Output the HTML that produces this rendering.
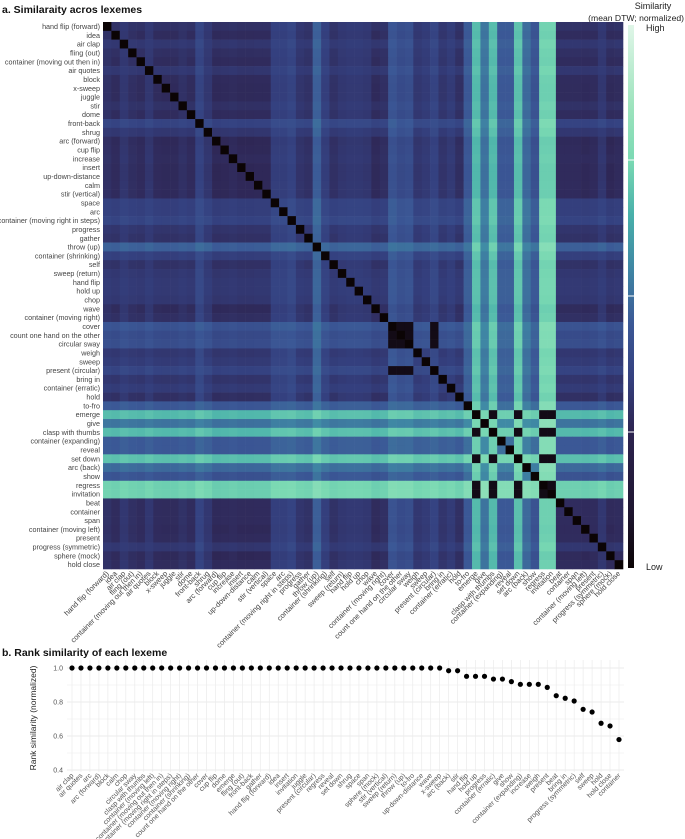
<!DOCTYPE html>
<html><head><meta charset="utf-8">
<style>
html,body{margin:0;padding:0;background:#fff;}
svg{display:block;font-family:"Liberation Sans",sans-serif;}
</style></head>
<body>
<svg id="fig" width="685" height="839" viewBox="0 0 685 839" xmlns="http://www.w3.org/2000/svg">
<text x="2" y="13" font-size="10.5" font-weight="bold" fill="#111">a. Similaraity acros lexemes</text>
<text x="653" y="9" font-size="9" fill="#222" text-anchor="middle">Similarity</text>
<text x="684" y="21" font-size="8.6" fill="#222" text-anchor="end">(mean DTW; normalized)</text>
<defs><linearGradient id="cb" x1="0" y1="0" x2="0" y2="1">
<stop offset="0" stop-color="#e0f6e8"/><stop offset="0.15" stop-color="#9de3bd"/><stop offset="0.25" stop-color="#7ad9b3"/><stop offset="0.35" stop-color="#48b0aa"/><stop offset="0.45" stop-color="#3f86a4"/><stop offset="0.55" stop-color="#3b5896"/><stop offset="0.65" stop-color="#34407f"/><stop offset="0.75" stop-color="#2d2450"/><stop offset="0.9" stop-color="#1f1630"/><stop offset="1" stop-color="#0b0405"/>
</linearGradient></defs>
<rect x="628" y="25" width="6" height="543" fill="url(#cb)"/>
<line x1="628" x2="634" y1="160" y2="160" stroke="#fff" stroke-width="1"/>
<line x1="628" x2="634" y1="296" y2="296" stroke="#fff" stroke-width="1"/>
<line x1="628" x2="634" y1="432" y2="432" stroke="#fff" stroke-width="1"/>
<text x="646" y="31" font-size="9" fill="#222">High</text>
<text x="646" y="570" font-size="9" fill="#222">Low</text>
<g id="heat"></g>
<g id="rowlab"></g>
<g id="collab"></g>

<text x="2" y="656" font-size="10.5" font-weight="bold" fill="#111">b. Rank similarity of each lexeme</text>
<g id="rank"></g>
<text transform="translate(36,718) rotate(-90)" font-size="8.5" fill="#222" text-anchor="middle">Rank similarity (normalized)</text>
</svg>
<script>
const lexemes = ["hand flip (forward)","idea","air clap","fling (out)","container (moving out then in)","air quotes","block","x-sweep","juggle","stir","dome","front-back","shrug","arc (forward)","cup flip","increase","insert","up-down-distance","calm","stir (vertical)","space","arc","container (moving right in steps)","progress","gather","throw (up)","container (shrinking)","self","sweep (return)","hand flip","hold up","chop","wave","container (moving right)","cover","count one hand on the other","circular sway","weigh","sweep","present (circular)","bring in","container (erratic)","hold","to-fro","emerge","give","clasp with thumbs","container (expanding)","reveal","set down","arc (back)","show","regress","invitation","beat","container","span","container (moving left)","present","progress (symmetric)","sphere (mock)","hold close"];
const rowLevel = [.33,.30,.36,.32,.30,.36,.30,.29,.29,.33,.30,.42,.36,.26,.28,.30,.27,.27,.28,.28,.40,.40,.42,.35,.33,.52,.40,.33,.36,.37,.37,.36,.29,.32,.48,.45,.46,.36,.38,.42,.35,.38,.32,.50,.80,.58,.80,.50,.50,.82,.55,.48,.87,.87,.30,.30,.30,.28,.30,.36,.27,.30];
const clusterId = [0,0,0,0,0,0,0,0,0,0,0,0,0,0,0,0,0,0,0,0,0,0,0,0,0,0,0,0,0,0,0,0,0,0,1,1,1,0,0,1,0,0,0,0,2,0,2,0,0,2,0,0,2,2,0,0,0,0,0,0,0,0];
const rankLabels = ["air clap","air quotes","arc","arc (forward)","block","calm","chop","circular sway","clasp with thumbs","container (moving left)","container (moving out then in)","container (moving right in steps)","container (moving right)","container (shrinking)","count one hand on the other","cover","cup flip","dome","emerge","fling (out)","front-back","gather","hand flip (forward)","idea","insert","invitation","juggle","present (circular)","regress","reveal","set down","shrug","space","span","sphere (mock)","stir (vertical)","sweep (return)","throw (up)","to-fro","up-down-distance","wave","x-sweep","arc (back)","stir","hand flip","hold up","progress","container (erratic)","give","show","container (expanding)","increase","weigh","present","beat","bring in","progress (symmetric)","self","sweep","hold","hold close","container"];
const rankValues = [1,1,1,1,1,1,1,1,1,1,1,1,1,1,1,1,1,1,1,1,1,1,1,1,1,1,1,1,1,1,1,1,1,1,1,1,1,1,1,1,1,1,0.984,0.984,0.951,0.951,0.951,0.935,0.935,0.92,0.904,0.904,0.904,0.886,0.837,0.822,0.806,0.757,0.741,0.675,0.659,0.579];
const yTicks = [0.4,0.6,0.8,1.0];
const yGrid = [0.4,0.5,0.6,0.7,0.8,0.9,1.0];

const NS="http://www.w3.org/2000/svg";
function mk(tag, attrs, parent){const e=document.createElementNS(NS,tag);for(const k in attrs)e.setAttribute(k,attrs[k]);parent.appendChild(e);return e;}
const stops=[[0,[11,4,5]],[0.1,[31,22,48]],[0.25,[45,36,80]],[0.3,[48,44,94]],[0.38,[52,64,127]],[0.45,[59,88,150]],[0.55,[63,134,164]],[0.65,[72,176,170]],[0.75,[122,217,179]],[0.85,[160,229,190]],[1,[224,246,232]]];
function color(v){v=Math.max(0,Math.min(1,v));for(let i=1;i<stops.length;i++){if(v<=stops[i][0]){const a=stops[i-1],b=stops[i],t=(v-a[0])/(b[0]-a[0]);const c=a[1].map((x,k)=>Math.round(x+(b[1][k]-x)*t));return `rgb(${c[0]},${c[1]},${c[2]})`;}}return "rgb(224,246,232)";}

const HX=103,HY=22,HW=520,HH=547,n=lexemes.length,cw=HW/n,ch=HH/n;
const heat=document.getElementById('heat');
for(let i=0;i<n;i++){for(let j=0;j<n;j++){
  let v;
  if(i===j) v=0;
  else if(clusterId[i]>0&&clusterId[i]===clusterId[j]) v=0.04;
  else {const a=rowLevel[i],b=rowLevel[j];v=0.75*Math.max(a,b)+0.25*Math.min(a,b);}
  const r=mk('rect',{x:(HX+j*cw).toFixed(2),y:(HY+i*ch).toFixed(2),width:(cw+0.3).toFixed(2),height:(ch+0.3).toFixed(2),fill:color(v)},heat);
  
  
}}
const rl=document.getElementById('rowlab'),cl=document.getElementById('collab');
lexemes.forEach((s,i)=>{
  const t=mk('text',{x:100,y:(HY+(i+0.5)*ch+2.6).toFixed(2),'font-size':7.2,fill:'#444','text-anchor':'end'},rl);t.textContent=s;
  
  
  const x=HX+(i+0.5)*cw+2, y=HY+HH+5;
  const c=mk('text',{transform:`translate(${x.toFixed(2)},${y}) rotate(-45)`,'font-size':7.4,fill:'#444','text-anchor':'end'},cl);c.textContent=s;
  
  
});

const PL=67,PR=624,PT=660,PB=772,x0=72,x1=619;
const xs=i=>x0+i*(x1-x0)/(rankValues.length-1);
const ys=v=>668+(1-v)*170;
const rk=document.getElementById('rank');
yGrid.forEach((v,k)=>mk('line',{x1:PL,x2:PR,y1:ys(v),y2:ys(v),stroke:'#ebebeb','stroke-width':k%2===0?0.9:0.5},rk));
rankValues.forEach((v,i)=>mk('line',{x1:xs(i),x2:xs(i),y1:PT,y2:PB,stroke:'#ebebeb','stroke-width':0.7},rk));
yTicks.forEach(v=>{const t=mk('text',{x:63,y:ys(v)+2.5,'font-size':7,fill:'#555','text-anchor':'end'},rk);t.textContent=v.toFixed(1);
  
  });
rankValues.forEach((v,i)=>{
  const c=mk('circle',{cx:xs(i).toFixed(2),cy:ys(v).toFixed(2),r:2.6,fill:'#000'},rk);
  
  
  const t=mk('text',{transform:`translate(${(xs(i)+2).toFixed(2)},776) rotate(-45)`,'font-size':7,fill:'#555','text-anchor':'end'},rk);t.textContent=rankLabels[i];
  
  
});
</script>
</body></html>
